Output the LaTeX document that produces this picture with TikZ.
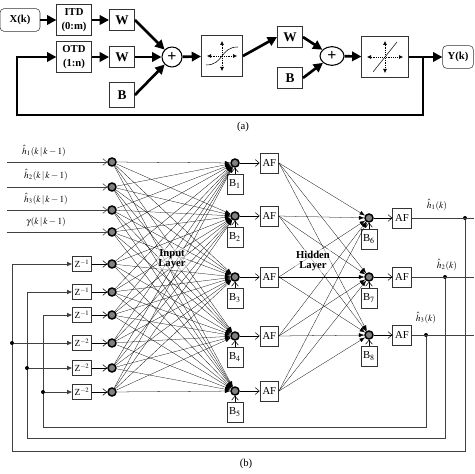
\documentclass[tikz,border=0pt]{standalone}
\usepackage{mathptmx}
\usepackage{fontspec}
\setmainfont{Liberation Serif}
\usetikzlibrary{shapes.geometric, arrows.meta, positioning, calc}
\tikzstyle{block} = [rectangle, draw=black!80, thin, fill=white, inner sep=0pt, align=center, font=\fontsize{8}{10}\selectfont\bfseries]
\tikzstyle{wbox} = [block, minimum width=19pt, minimum height=16pt, font=\fontsize{10}{11}\selectfont\bfseries]
\tikzstyle{sumnode} = [circle, draw=black, thick, fill=white, minimum size=15pt, inner sep=0pt, font=\fontsize{12}{12}\selectfont\bfseries]
\tikzstyle{thickarrow} = [line width=2pt, -{Triangle[length=7pt,width=7pt]}]
\tikzstyle{dotarrow} = [densely dotted, thin, {Latex[length=3pt,width=3pt]}-{Latex[length=3pt,width=3pt]}]
\tikzstyle{neuron} = [circle, draw=black, line width=1.1pt, fill=black!50, minimum size=6pt, inner sep=0pt]
\tikzstyle{smallbox} = [rectangle, draw=black!80, thin, fill=white, inner sep=0pt, align=center, font=\fontsize{8}{9}\selectfont]
\tikzstyle{afbox} = [smallbox, minimum width=14pt, minimum height=15pt]
\tikzstyle{biasbox} = [smallbox, minimum width=12pt, minimum height=15pt]
\tikzstyle{delaybox} = [smallbox, minimum width=14pt, minimum height=11pt, font=\fontsize{7}{8}\selectfont]
\tikzstyle{openarrow} = [thin, -{Straight Barb[length=3pt,width=5pt]}]
\tikzstyle{weight} = [very thin, -{Latex[length=4pt,width=3pt]}]
\tikzstyle{wire} = [semithick, draw=black!75]
\tikzstyle{feed} = [wire, -{Latex[length=4pt,width=3.5pt]}]
\tikzstyle{junction} = [circle, fill=black, minimum size=3pt, inner sep=0pt]
\tikzstyle{inlabel} = [font=\fontsize{7}{8}\selectfont, inner sep=0.5pt]
\tikzstyle{layerlabel} = [font=\fontsize{8}{8}\selectfont\bfseries, align=center, fill=white, fill opacity=0.5, text opacity=1, inner sep=1pt]

\begin{document}
\begin{tikzpicture}[x=0.75pt, y=-0.75pt]
        \useasboundingbox (0,0) rectangle (474,474);

        % (a) Block diagram
        \node (xk) [block, rounded corners=3pt, minimum width=30pt, minimum height=17pt] at (20,20) {X(k)};
        \node (itd) [block, minimum width=26pt, minimum height=23pt] at (74,20) {ITD\\(0:m)};
        \node (wa) [wbox] at (122,20) {W};
        \node (otd) [block, minimum width=26pt, minimum height=23pt] at (74,57) {OTD\\(1:n)};
        \node (wb) [wbox] at (122,57) {W};
        \node (ba) [wbox, minimum height=19pt] at (122,95) {B};
        \node (suma) [sumnode] at (172,57) {+};
        \node (sig) [block, minimum width=31pt, minimum height=31pt] at (222,56) {};
        \node (wc) [wbox] at (290,37) {W};
        \node (bb) [wbox] at (290,78) {B};
        \node (sumb) [sumnode, ellipse, minimum width=18pt, minimum height=14pt] at (332,56) {+};
        \node (lin) [block, minimum width=35pt, minimum height=31pt] at (385,57) {};
        \node (yk) [block, rounded corners=3pt, minimum width=23pt, minimum height=17pt] at (458,57) {Y(k)};
        \coordinate (split) at (423,57);
        \coordinate (fba) at (423,115);
        \coordinate (fbb) at (17,115);

        % transfer functions
        \begin{scope}[shift={(sig.center)}]
          \draw [dotarrow] (-15,0) -- (15,0);
          \draw [dotarrow] (0,-15) -- (0,15);
          \draw [thin] (-16,9) .. controls (2,9) and (-2,-9) .. (16,-9);
        \end{scope}
        \begin{scope}[shift={(lin.center)}]
          \draw [dotarrow] (-18,0) -- (18,0);
          \draw [dotarrow] (0,-16) -- (0,16);
          \draw [thin] (-12,15) -- (12,-15);
        \end{scope}

        % Arrows
        \draw [thickarrow] (xk) -- (itd);
        \draw [thickarrow] (itd) -- (wa);
        \draw [thickarrow] (otd) -- (wb);
        \draw [thickarrow] (wa.east) -- (suma);
        \draw [thickarrow] (wb) -- (suma);
        \draw [thickarrow] (ba.east) -- (suma);
        \draw [thickarrow] (suma) -- (sig);
        \draw [thickarrow] (sig.east) -- (wc.west);
        \draw [thickarrow] (wc.east) -- (sumb);
        \draw [thickarrow] (bb.east) -- (sumb);
        \draw [thickarrow] (sumb) -- (lin);
        \draw [thickarrow] (lin) -- (yk);
        \draw [thickarrow] (split) -- (fba) -- (fbb) |- (otd.west);

        \node (laba) [font=\fontsize{8}{9}\selectfont] at (243,127) {(a)};

        % (b) Network
        % Inputs
        \foreach \i/\y in {1/162, 2/187, 3/210, 4/232, 5/264, 6/292, 7/315, 8/343, 9/368, 10/392}
          \node (in\i) [neuron] at (112,\y) {};
        \foreach \i/\y in {1/162, 2/187, 3/210, 4/232} {
          \coordinate (src\i) at (7,\y);
          \draw [wire, openarrow] (src\i) -- (in\i);
        }
        \node (lbl1) [inlabel] at (44,151) {$\hat{h}_1(k\,|\,k-1)$};
        \node (lbl2) [inlabel] at (46,175) {$\hat{h}_2(k\,|\,k-1)$};
        \node (lbl3) [inlabel] at (46,199) {$\hat{h}_3(k\,|\,k-1)$};
        \node (lbl4) [inlabel] at (46,222) {$\gamma(k\,|\,k-1)$};

        % Delays
        \foreach \r/\y/\p/\n in {1/264/-1/5, 2/292/-1/6, 3/315/-1/7, 4/343/-2/8, 5/368/-2/9, 6/392/-2/10} {
          \node (zd\r) [delaybox] at (82,\y) {Z$^{\p}$};
          \draw [openarrow] (zd\r) -- (in\n);
        }

        % Hidden layer
        \foreach \j/\y in {1/163, 2/216, 3/277, 4/336, 5/391} {
          \node (hn\j) [neuron] at (235,\y) {};
          \node (hb\j) [biasbox, below=4.5pt of hn\j] {B$_\j$};
          \node (haf\j) [afbox, right=15pt of hn\j] {AF};
          \draw [openarrow] (hn\j) -- (haf\j);
          \draw [openarrow] (hb\j) -- (hn\j);
        }

        % Output layer
        \foreach \k/\y/\b in {1/218/6, 2/277/7, 3/335/8} {
          \node (on\k) [neuron] at (369,\y) {};
          \node (ob\k) [biasbox, below=4.5pt of on\k] {B$_\b$};
          \node (oaf\k) [afbox, right=14pt of on\k] {AF};
          \draw [openarrow] (on\k) -- (oaf\k);
          \draw [openarrow] (ob\k) -- (on\k);
        }

        % Weights
        \foreach \i in {1,...,10}
          \foreach \j in {1,...,5}
            \draw [weight] (in\i) -- (hn\j);
        \foreach \j in {1,...,5}
          \foreach \k in {1,2,3}
            \draw [weight] (haf\j.east) -- (on\k);

        \node (inlayer) [layerlabel] at (172,259) {Input\\Layer};
        \node (hidlayer) [layerlabel] at (313,261) {Hidden\\Layer};

        % Outputs and feedback
        \node (jn1) [junction] at (465,218) {};
        \node (jn2) [junction] at (445,277) {};
        \node (jn3) [junction] at (426,335) {};
        \coordinate (out1) at (474,218);
        \coordinate (out2) at (474,277);
        \coordinate (out3) at (474,335);
        \draw [wire] (oaf1) -- (out1);
        \draw [wire] (oaf2) -- (out2);
        \draw [wire] (oaf3) -- (out3);
        \node (olbl1) [inlabel] at (437,205) {$\hat{h}_1(k)$};
        \node (olbl2) [inlabel] at (447,265) {$\hat{h}_2(k)$};
        \node (olbl3) [inlabel] at (426,318) {$\hat{h}_3(k)$};

        \coordinate (fb1) at (465,451);
        \coordinate (fl1) at (12,451);
        \coordinate (fb2) at (445,438);
        \coordinate (fl2) at (27,438);
        \coordinate (fb3) at (426,427);
        \coordinate (fl3) at (43,427);
        \draw [feed] (jn1) -- (fb1) -- (fl1) |- (zd1);
        \draw [feed] (jn2) -- (fb2) -- (fl2) |- (zd2);
        \draw [feed] (jn3) -- (fb3) -- (fl3) |- (zd3);
        \node (jl1) [junction] at (12,343) {};
        \node (jl2) [junction] at (27,368) {};
        \node (jl3) [junction] at (43,392) {};
        \draw [feed] (jl1) -- (zd4);
        \draw [feed] (jl2) -- (zd5);
        \draw [feed] (jl3) -- (zd6);

        \node (labb) [font=\fontsize{8}{9}\selectfont] at (246,464) {(b)};

    \end{tikzpicture}
\end{document}
